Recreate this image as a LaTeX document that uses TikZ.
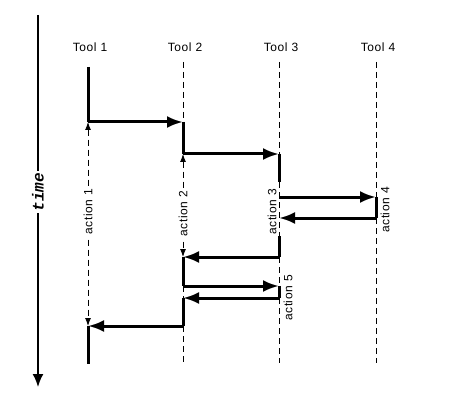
\documentclass[tikz,border=0pt]{standalone}
\usepackage{fontspec}
\setmainfont{Liberation Sans}
\newfontfamily\labelfont[LetterSpace=5]{Liberation Sans}
\newfontfamily\timefont{Liberation Mono}
\usetikzlibrary{arrows.meta, positioning}

\tikzset{
  tool/.style={font=\labelfont\fontsize{12}{14}\selectfont},
  lifeline/.style={dash pattern=on 6pt off 4pt, line width=0.9pt},
  active/.style={line width=3pt},
  msg/.style={line width=3pt, -{Latex[length=16pt, width=12pt]}},
  span/.style={dash pattern=on 6pt off 4pt, line width=0.9pt,
    {Latex[length=8pt, width=6pt]}-{Latex[length=8pt, width=6pt]}},
  action/.style={font=\labelfont\fontsize{12}{14}\selectfont, rotate=90, inner sep=1pt},
  axis/.style={line width=1.8pt, -{Latex[length=13pt, width=11pt]}}
}

\begin{document}
\begin{tikzpicture}[x=1pt, y=-1pt]
\useasboundingbox (0,0) rectangle (474,417);

% time axis
\coordinate (ttop) at (38,15);
\coordinate (tbot) at (38,387);
\draw[axis] (ttop) -- (tbot);
\node[rotate=90, fill=white, inner sep=1.5pt, font=\timefont\bfseries\itshape\fontsize{16}{18}\selectfont] (time) at (38,192) {time};

% tools
\foreach \i/\x in {1/88, 2/183, 3/279, 4/376}
  \node[tool] (tool\i) at (\x+2,47) {Tool \i};

% points on the lines
\coordinate (a1) at (88,67);   \coordinate (b1) at (88,122);
\coordinate (c1) at (88,326);  \coordinate (d1) at (88,364);
\coordinate (a2) at (183,62);  \coordinate (b2) at (183,122);
\coordinate (c2) at (183,154); \coordinate (d2) at (183,257);
\coordinate (e2) at (183,286); \coordinate (f2) at (183,298);
\coordinate (g2) at (183,326); \coordinate (h2) at (183,363);
\coordinate (a3) at (279,62);  \coordinate (b3) at (279,154);
\coordinate (c3) at (279,182); \coordinate (d3) at (279,197);
\coordinate (e3) at (279,218); \coordinate (f3) at (279,236);
\coordinate (g3) at (279,257); \coordinate (h3) at (279,286);
\coordinate (i3) at (279,298); \coordinate (j3) at (279,363);
\coordinate (a4) at (376,62);  \coordinate (b4) at (376,197);
\coordinate (c4) at (376,218); \coordinate (d4) at (376,363);

% dashed lines
\draw[lifeline] (a2) -- (b2);
\draw[lifeline] (e2) -- (f2);
\draw[lifeline] (g2) -- (h2);
\draw[lifeline] (a3) -- (b3);
\draw[lifeline] (c3) -- (f3);
\draw[lifeline] (g3) -- (h3);
\draw[lifeline] (i3) -- (j3);
\draw[lifeline] (a4) -- (b4);
\draw[lifeline] (c4) -- (d4);

% active parts
\draw[active] (a1) -- (b1);
\draw[active] (c1) -- (d1);
\draw[active] (b2) -- (c2);
\draw[active] (d2) -- (e2);
\draw[active] (f2) -- (g2);
\draw[active] (b3) -- (c3);
\draw[active] (f3) -- (g3);
\draw[active] (h3) -- (i3);
\draw[active] (b4) -- (c4);

% actions
\draw[span] (b1) -- node[action, fill=white, pos=0.44] {action 1} (c1);
\draw[span] (c2) -- node[action, fill=white, pos=0.58] {action 2} (d2);
\node[action] (act3) at (272,212) {action 3};
\node[action] (act4) at (385,210) {action 4};
\node[action] (act5) at (288,298) {action 5};

% messages
\draw[msg] (b1) -- (b2);
\draw[msg] (c2) -- (b3);
\draw[msg] (d3) -- (b4);
\draw[msg] (c4) -- (e3);
\draw[msg] (g3) -- (d2);
\draw[msg] (e2) -- (h3);
\draw[msg] (i3) -- (f2);
\draw[msg] (g2) -- (c1);
\end{tikzpicture}
\end{document}
